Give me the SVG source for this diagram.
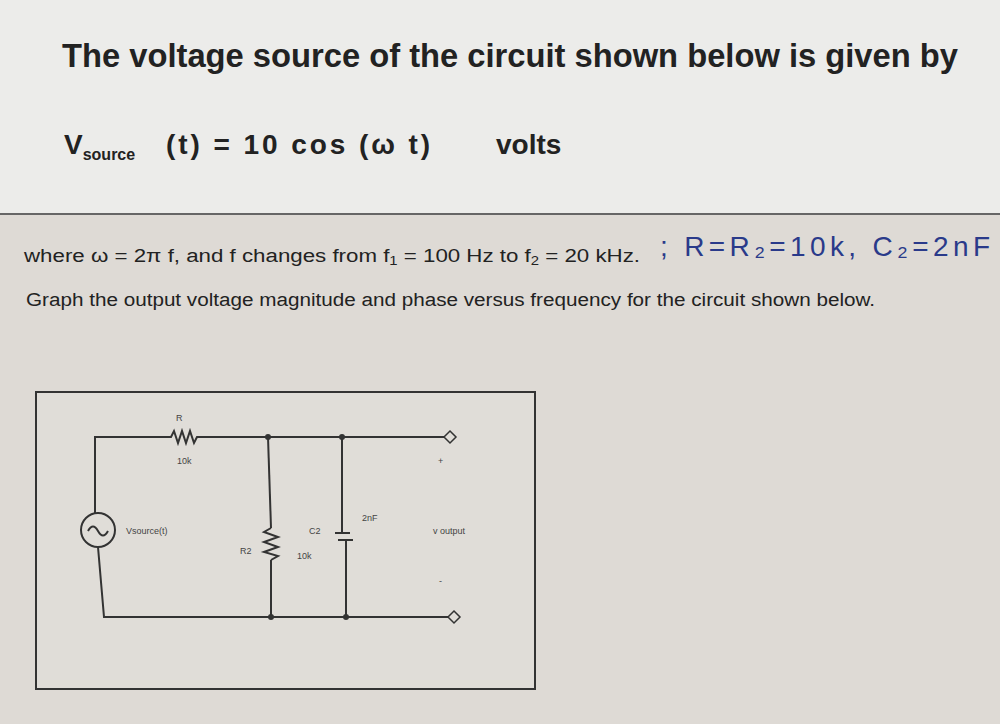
<svg xmlns="http://www.w3.org/2000/svg" width="1000" height="724" viewBox="0 0 1000 724">
<style>
.w{fill:none;stroke:#333;stroke-width:2}
.t{font-family:"Liberation Sans",Arial,sans-serif;fill:#222}
.s{font-family:"Liberation Sans",Arial,sans-serif;fill:#444;font-size:9px}
.h{font-family:"Liberation Sans",Arial,sans-serif;fill:#2a3a8a;font-size:28px}
</style>
<rect width="1000" height="724" fill="#dedad5"/>
<rect width="1000" height="214" fill="#ececea"/>
<line x1="0" y1="214" x2="1000" y2="214" stroke="#666" stroke-width="2"/>
<text class="t" x="62" y="67" font-size="33" font-weight="bold" textLength="896" lengthAdjust="spacingAndGlyphs">The voltage source of the circuit shown below is given by</text>
<text class="t" x="64" y="154" font-size="28" font-weight="bold">V<tspan font-size="16" dy="6">source</tspan></text>
<text class="t" x="166" y="154" font-size="28" font-weight="bold" textLength="264">(t) =  10 cos (ω t)</text>
<text class="t" x="496" y="154" font-size="28" font-weight="bold">volts</text>
<text class="t" x="24" y="262" font-size="18" textLength="616" lengthAdjust="spacingAndGlyphs">where ω  =  2π  f,  and f changes from f<tspan font-size="12" dy="3">1</tspan><tspan dy="-3">  = 100 Hz  to f</tspan><tspan font-size="12" dy="3">2</tspan><tspan dy="-3">  = 20 kHz.</tspan></text>
<text class="h" x="660" y="256" textLength="330">; R=R₂=10k, C₂=2nF</text>
<text class="t" x="26" y="306" font-size="18" textLength="849" lengthAdjust="spacingAndGlyphs">Graph the output voltage magnitude and phase versus frequency for the circuit shown below.</text>
<rect x="36" y="392" width="499" height="297" fill="#e0ddd8" stroke="#333" stroke-width="2"/>
<g id="wires">
<polyline class="w" points="168,437 95,437 95,513"/>
<polyline class="w" points="98,547 104,617 450,617"/>
<line class="w" x1="203" y1="437" x2="450" y2="437"/>
<polyline class="w" points="268,437 271,528"/>
<polyline class="w" points="271,560 271,617"/>
<polyline class="w" points="342,437 342,533"/>
<polyline class="w" points="346,540 346,617"/>
</g>
<g id="R"><polyline class="w" points="168,437 171,437 174,431 178,443 182,431 186,443 190,431 194,443 197,437 203,437"/>
<text class="s" x="176" y="421">R</text><text class="s" x="177" y="464">10k</text></g>
<g id="source"><circle cx="98" cy="530" r="17" fill="none" stroke="#333" stroke-width="2"/>
<path d="M88,531 q5,-9 10,0 q5,9 10,0" class="w" stroke-width="1.5"/>
<text class="s" x="126" y="534">Vsource(t)</text></g>
<g id="R2"><polyline class="w" points="271,528 264,532 278,537 264,542 278,547 264,552 278,556 271,560"/>
<text class="s" x="240" y="554">R2</text><text class="s" x="297" y="559">10k</text></g>
<g id="C2"><line class="w" x1="335" y1="533" x2="350" y2="533"/><line class="w" x1="338" y1="540" x2="353" y2="540"/>
<text class="s" x="309" y="534">C2</text><text class="s" x="362" y="521">2nF</text></g>
<g id="nodes" fill="#333"><circle cx="268" cy="437" r="3"/><circle cx="342" cy="437" r="3"/><circle cx="271" cy="617" r="3"/><circle cx="346" cy="617" r="3"/></g>
<g id="out"><path d="M450,431 l6,6 -6,6 -6,-6z" fill="#e0ddd8" stroke="#333" stroke-width="1.5"/>
<path d="M454,611 l6,6 -6,6 -6,-6z" fill="#e0ddd8" stroke="#333" stroke-width="1.5"/>
<text class="s" x="438" y="464">+</text><text class="s" x="433" y="534">v output</text><text class="s" x="439" y="584">-</text></g>
</svg>
